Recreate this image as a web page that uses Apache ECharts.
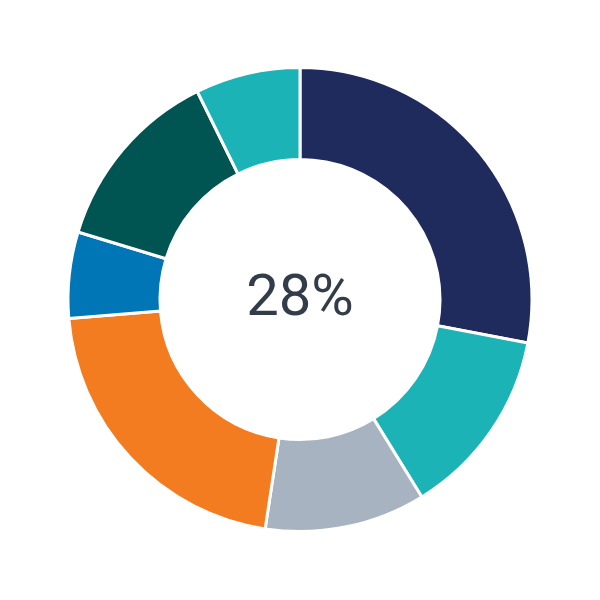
<!DOCTYPE html>
<html><head><meta charset="utf-8">
<script src="https://cdn.jsdelivr.net/npm/echarts@6/dist/echarts.min.js"></script>
<style>html,body{margin:0;padding:0;background:#fff}#c{width:600px;height:600px}</style>
</head><body><div id="c"></div>
<script>
const categories = ['A','B','C','D','E','F','G'];
const values = [28, 13.2, 11.2, 21.3, 6.0, 13.0, 7.3];
const colors = ['#1e2b5c','#1bb3b6','#a8b3c1','#f47c20','#0076b6','#005452','#1bb3b6'];
const centerLabel = '28%';

const chart = echarts.init(document.getElementById('c'));
chart.setOption({
  animation: false,
  title: {
    text: centerLabel, left: 'center', top: 'middle',
    textStyle: {fontFamily: 'Roboto', fontSize: 58, fontWeight: 'normal', color: '#333d4a'}
  },
  series: [{
    type: 'pie',
    center: [300, 299.5],
    radius: [140, 232],
    startAngle: 90,
    clockwise: true,
    label: {show: false},
    labelLine: {show: false},
    itemStyle: {borderColor: '#ffffff', borderWidth: 3},
    data: categories.map((c, i) => ({name: c, value: values[i], itemStyle: {color: colors[i]}}))
  }]
});
</script></body></html>
